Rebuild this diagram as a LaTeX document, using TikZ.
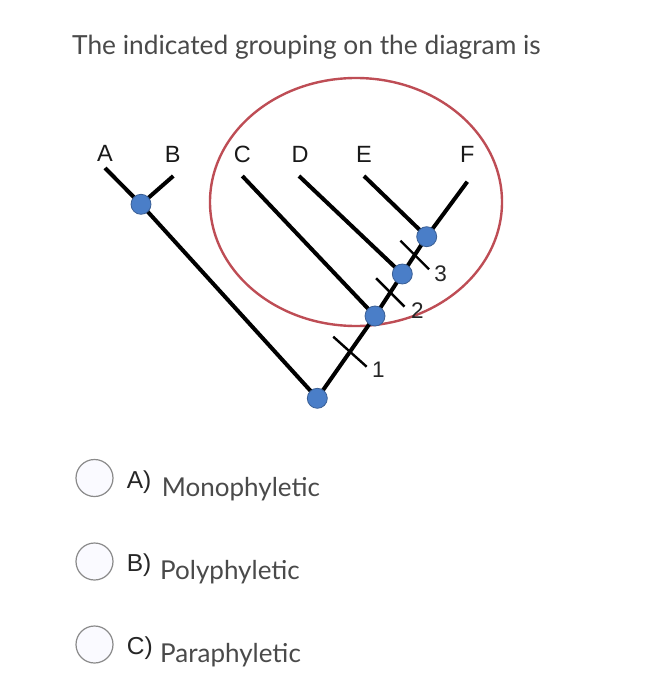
\documentclass[tikz,border=0pt]{standalone}
\usepackage{fontspec}
\setmainfont{Lato}
\newfontfamily\arialfont{Liberation Sans}
\usetikzlibrary{calc}

\definecolor{nodeblue}{HTML}{4A7EC8}
\definecolor{nodeedge}{HTML}{3A5F95}
\definecolor{ringred}{HTML}{BE4D55}
\definecolor{textgray}{HTML}{4A4A4A}
\definecolor{radiogray}{HTML}{8A8A8A}

\tikzset{
  branch/.style={line width=4pt, black},
  tickmark/.style={line width=2.4pt, black},
  bnode/.style={circle, fill=nodeblue, draw=nodeedge, line width=0.8pt, minimum size=20pt, inner sep=0pt},
  taxon/.style={font=\arialfont\fontsize{23.5}{23.5}\selectfont, text=black!90, inner sep=0pt},
  numlab/.style={font=\arialfont\fontsize{22.5}{22.5}\selectfont, text=black!85, inner sep=0pt},
  radio/.style={circle, draw=radiogray, fill=blue!2, line width=1.2pt, minimum size=37pt, inner sep=0pt},
  optletter/.style={font=\arialfont\fontsize{24.5}{24.5}\selectfont, text=black!85, inner sep=0pt, anchor=base west},
  optword/.style={font=\fontsize{26}{26}\selectfont, text=textgray, inner sep=0pt, anchor=base west}
}

\begin{document}
\begin{tikzpicture}[x=1pt,y=1pt]
\fill [white] (0,0) rectangle (663,-700);
\useasboundingbox (0,0) rectangle (663,-700);
% question
\node [font=\fontsize{26.3}{26.3}\selectfont, text=textgray, inner sep=0pt, anchor=base west] (question) at (72,-55) {The indicated grouping on the diagram is};
% group
\draw [ringred, line width=2.4pt] (356,-202) ellipse [x radius=146, y radius=124];
% tips
\coordinate (a) at (105,-168);
\coordinate (b) at (173.3,-176);
\coordinate (c) at (242.3,-176);
\coordinate (d) at (299,-176);
\coordinate (e) at (364,-176);
\coordinate (f) at (467.3,-181.7);
% nodes
\coordinate (ab) at (141,-204.3);
\coordinate (root) at (317.3,-398.3);
\coordinate (n1) at (375,-316);
\coordinate (n2) at (402.3,-274);
\coordinate (n3) at (426.7,-236.7);
% branches
\draw [branch] (a) -- (ab) -- (b);
\draw [branch] (ab) -- (root);
\draw [branch] (root) -- (n1) -- (n2) -- (n3) -- (f);
\draw [branch] (c) -- (n1);
\draw [branch] (d) -- (n2);
\draw [branch] (e) -- (n3);
% ticks
\coordinate (t1) at ($(root)!0.566!(n1)$);
\coordinate (t2) at ($(n1)!0.56!(n2)$);
\coordinate (t3) at ($(n2)!0.51!(n3)$);
\draw [tickmark] ($(t1)+(-16.7,15)$) -- ($(t1)+(16.7,-15)$);
\draw [tickmark] ($(t2)+(-14.2,14.2)$) -- ($(t2)+(14.2,-14.2)$);
\draw [tickmark] ($(t3)+(-14.3,14.3)$) -- ($(t3)+(14.3,-14.3)$);
\node [numlab] (l1) at (378.3,-370) {1};
\node [numlab] (l2) at (417.3,-310.7) {2};
\node [numlab] (l3) at (440.7,-274) {3};
% node dots
\node [bnode] (abdot) at (ab) {};
\node [bnode] (rootdot) at (root) {};
\node [bnode] (n1dot) at (n1) {};
\node [bnode] (n2dot) at (n2) {};
\node [bnode] (n3dot) at (n3) {};
% taxa
\node [taxon] (la) at (105,-153.3) {A};
\node [taxon] (lb) at (172.7,-154) {B};
\node [taxon] (lc) at (242.3,-154) {C};
\node [taxon] (ld) at (300,-154) {D};
\node [taxon] (le) at (364,-154) {E};
\node [taxon] (lf) at (467.3,-154) {F};
% answers
\node [radio] (ra) at (94.5,-478) {};
\node [radio] (rb) at (94.5,-561.5) {};
\node [radio] (rc) at (94.5,-644.5) {};
\node [optletter] (oa) at (126.7,-488) {A)};
\node [optletter] (ob) at (126.7,-571.5) {B)};
\node [optletter] (oc) at (126.7,-654.5) {C)};
\node [optword] (wa) at (161.7,-496.7) {Monophyletic};
\node [optword] (wb) at (160,-579.5) {Polyphyletic};
\node [optword] (wc) at (160,-662.5) {Paraphyletic};
\end{tikzpicture}
\end{document}
